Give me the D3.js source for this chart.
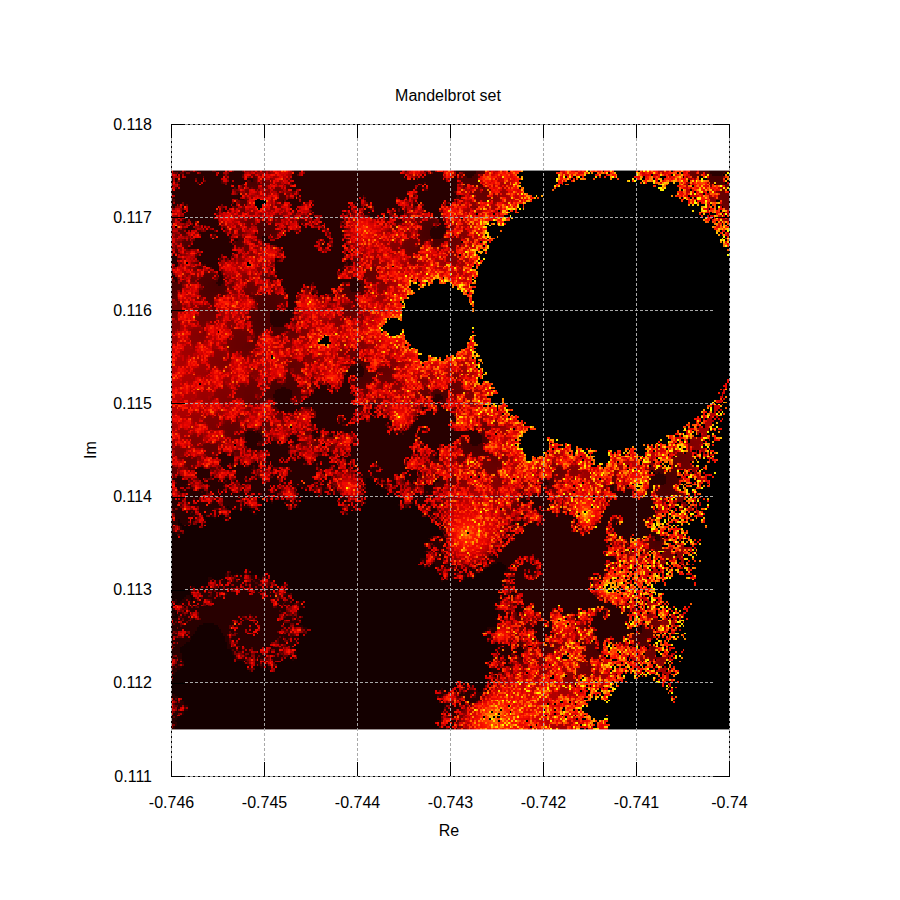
<!DOCTYPE html>
<html>
<head>
<meta charset="utf-8">
<script src="https://cdnjs.cloudflare.com/ajax/libs/d3/7.8.5/d3.min.js"></script>
<style>
  html, body { margin: 0; padding: 0; background: #fff; }
  text { font-family: "Liberation Sans", Arial, sans-serif; font-size: 16px; fill: #000; }
</style>
</head>
<body>
<svg id="chart" width="900" height="900"></svg>
<script>
// Tick labels
const reTicks = [-0.746, -0.745, -0.744, -0.743, -0.742, -0.741, -0.74];
const imTicks = [0.111, 0.112, 0.113, 0.114, 0.115, 0.116, 0.117, 0.118];

// Window the image covers
const reRange = [-0.746, -0.74];
const imRange = [0.1115, 0.1175];
const samples = 300;
const maxIter = 3000;

// Colour ramp, keyed on escape count. Low counts come in coarse flat bands.
// The cells are the set itself: escape counts of z*z+c, there is no way to read 90000 cells by eye.
const bandWidth = 68;
const bandedBelow = 136;
const rampIter = [0, 68, 136, 170, 220, 320, 500, 800, 1300, 2000, 2880];
const rampColor = ["#140000", "#280000", "#480000", "#700000", "#a00000", "#d00000", "#f00800", "#ff2000", "#ff6000", "#ffb000", "#ffff00"];

const margin = { top: 124, right: 171, bottom: 124, left: 171 };
const width = 900 - margin.left - margin.right;
const height = 900 - margin.top - margin.bottom;

const svg = d3.select("#chart");
const g = svg.append("g").attr("transform", `translate(${margin.left},${margin.top})`);

const xScale = d3.scaleLinear().domain([-0.746, -0.74]).range([0, width]);
const yScale = d3.scaleLinear().domain([0.111, 0.118]).range([height, 0]);
const colorScale = d3.scaleLinear().domain(rampIter).range(rampColor).clamp(true);

function escapeCount(cr, ci) {
    let x = 0, y = 0, n = 0;
    while (n < maxIter && x * x + y * y <= 4) {
        const t = x * x - y * y + cr;
        y = 2 * x * y + ci;
        x = t;
        n++;
    }
    return n;
}

// Paint the cells on a small canvas and stretch it over the plot
const canvas = document.createElement("canvas");
canvas.width = samples;
canvas.height = samples;
const ctx = canvas.getContext("2d");
const img = ctx.createImageData(samples, samples);
const reCell = d3.scaleLinear().domain([0, samples - 1]).range(reRange);
const imCell = d3.scaleLinear().domain([0, samples - 1]).range([imRange[1], imRange[0]]);
for (let j = 0; j < samples; j++) {
    for (let i = 0; i < samples; i++) {
        const n = escapeCount(reCell(i), imCell(j));
        const level = n < bandedBelow ? Math.floor(n / bandWidth) * bandWidth : n;
        const c = n >= maxIter ? { r: 0, g: 0, b: 0 } : d3.rgb(colorScale(level));
        const k = 4 * (j * samples + i);
        img.data[k] = c.r;
        img.data[k + 1] = c.g;
        img.data[k + 2] = c.b;
        img.data[k + 3] = 255;
    }
}
ctx.putImageData(img, 0, 0);

g.append("image")
    .attr("href", canvas.toDataURL())
    .attr("x", xScale(reRange[0]))
    .attr("y", yScale(imRange[1]))
    .attr("width", xScale(reRange[1]) - xScale(reRange[0]))
    .attr("height", yScale(imRange[0]) - yScale(imRange[1]))
    .attr("preserveAspectRatio", "none")
    .style("image-rendering", "pixelated");

// Border first, the dashed grid runs over it
const tickLen = 14;
g.append("rect")
    .attr("width", width)
    .attr("height", height)
    .attr("fill", "none")
    .attr("stroke", "#000")
    .attr("shape-rendering", "crispEdges");

const gridStyle = sel => sel
    .attr("stroke", "#a8a8a8")
    .attr("stroke-dasharray", "3,2")
    .attr("shape-rendering", "crispEdges");

g.selectAll(".grid-x").data(reTicks).enter().append("line")
    .attr("x1", d => xScale(d)).attr("x2", d => xScale(d))
    .attr("y1", tickLen).attr("y2", height - tickLen)
    .call(gridStyle);
g.selectAll(".grid-y").data(imTicks).enter().append("line")
    .attr("y1", d => yScale(d)).attr("y2", d => yScale(d))
    .attr("x1", tickLen).attr("x2", width - tickLen)
    .call(gridStyle);

// Axes: ticks on all four sides, pointing in
const tickStyle = a => a.selectAll("path").remove();
const plain = d => String(d);
g.append("g").attr("transform", `translate(0,${height})`)
    .call(d3.axisBottom(xScale).tickValues(reTicks).tickFormat(plain).tickSizeInner(-tickLen).tickPadding(tickLen + 7))
    .call(tickStyle);
g.append("g")
    .call(d3.axisTop(xScale).tickValues(reTicks).tickFormat("").tickSizeInner(-tickLen))
    .call(tickStyle);
g.append("g")
    .call(d3.axisLeft(yScale).tickValues(imTicks).tickFormat(plain).tickSizeInner(-tickLen).tickPadding(19))
    .call(tickStyle);
g.append("g").attr("transform", `translate(${width},0)`)
    .call(d3.axisRight(yScale).tickValues(imTicks).tickFormat("").tickSizeInner(-tickLen))
    .call(tickStyle);
g.selectAll(".tick text").style("font-size", "16px").style("font-family", '"Liberation Sans", Arial, sans-serif');
g.selectAll(".tick line").attr("shape-rendering", "crispEdges");

svg.append("text").attr("x", 448).attr("y", 101).attr("text-anchor", "middle").text("Mandelbrot set");
svg.append("text").attr("x", 449).attr("y", 836).attr("text-anchor", "middle").text("Re");
svg.append("text").attr("transform", "translate(96,450) rotate(-90)").attr("text-anchor", "middle").text("Im");
</script>
</body>
</html>
